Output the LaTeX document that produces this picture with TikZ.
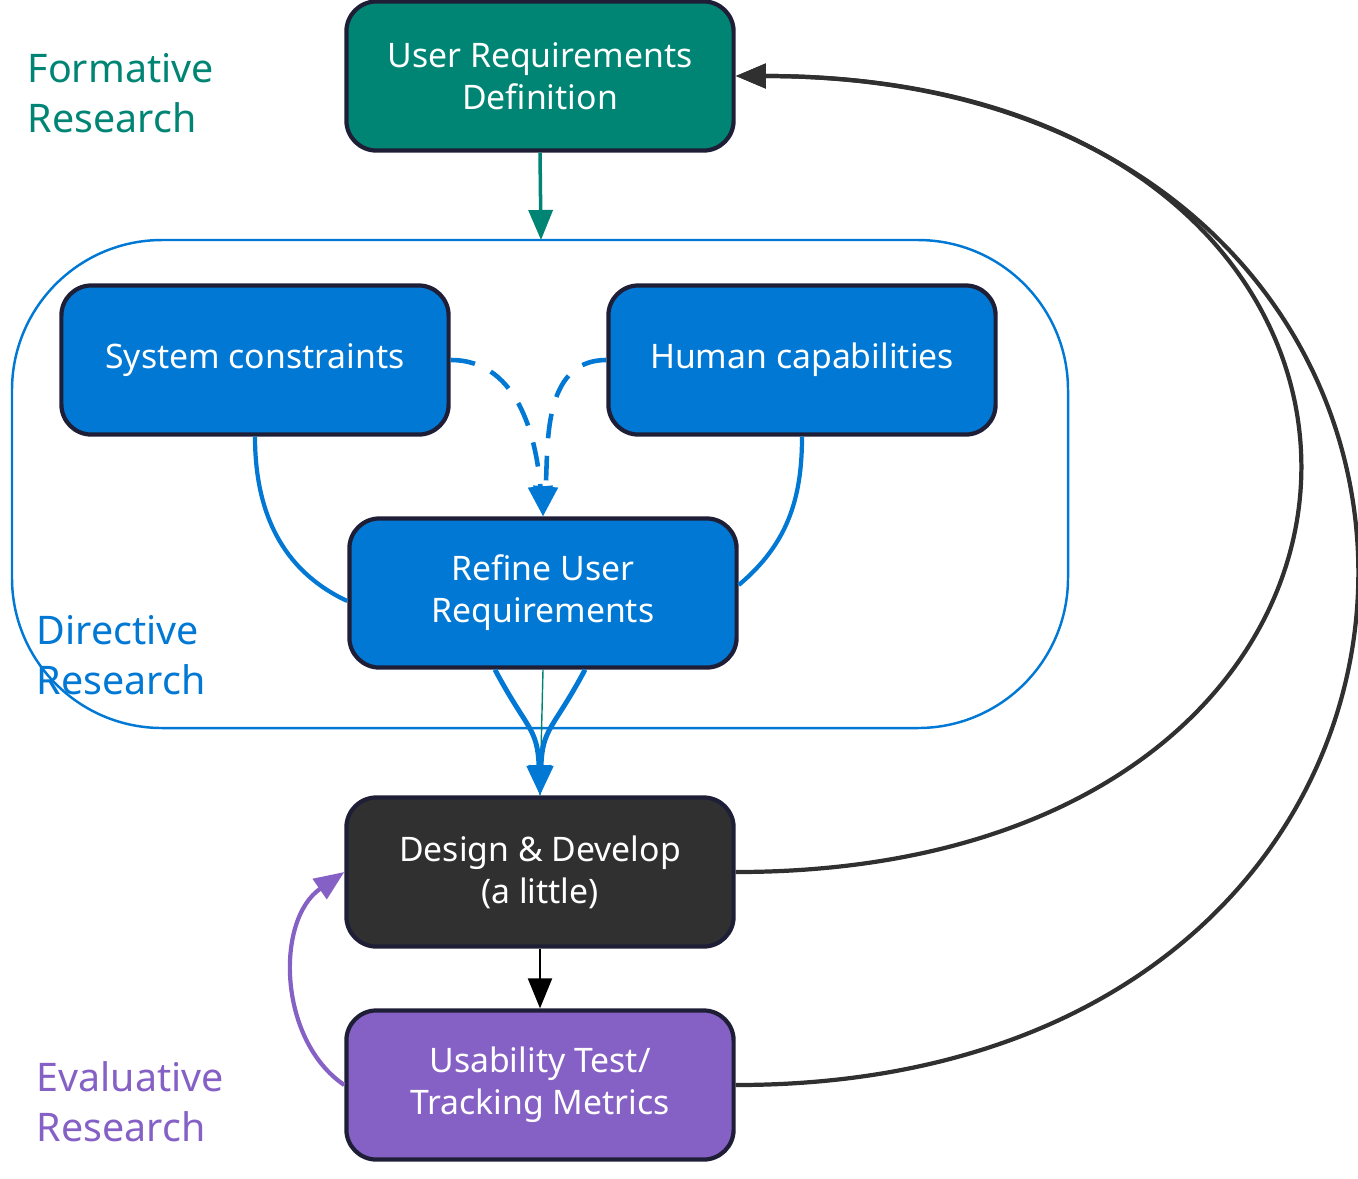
\documentclass[tikz,border=0pt]{standalone}
\usepackage{fontspec}
\setmainfont{Noto Sans}
\usepackage{tikz}
\definecolor{teal}{RGB}{0,133,117}
\definecolor{msblue}{RGB}{0,120,212}
\definecolor{dark}{RGB}{48,48,48}
\definecolor{violet}{RGB}{134,97,197}
\definecolor{edge}{RGB}{30,30,55}
\usetikzlibrary{arrows.meta}

\tikzset{
    phasebox/.style={draw=edge, line width=1.2pt, rounded corners=0.3cm, minimum width=3.87cm, minimum height=1.49cm, align=center, text=white, font=\fontsize{9.6}{11.95}\selectfont},
    phaselabel/.style={anchor=north west, inner sep=0pt, align=left, font=\fontsize{11.2}{14.2}\selectfont},
    tip/.style={-{Triangle[length=0.3cm, width=0.24cm]}}
}

\begin{document}
\begin{tikzpicture}[x=0.01cm, y=-0.01cm]
    \useasboundingbox (0,0) rectangle (1358,1178);

    % Research phases
    \node[phaselabel, text=teal] (formative) at (27,53) {Formative\\Research};
    \draw[msblue, line width=0.7pt, rounded corners=1.5cm] (12,240) rectangle (1068,728);
    \node[phaselabel, text=msblue] (directive) at (36,615) {Directive\\Research};
    \node[phaselabel, text=violet] (evaluative) at (36,1061) {Evaluative\\Research};

    % Boxes
    \node[phasebox, fill=teal] (userreq) at (540,76) {User Requirements\\Definition};
    \node[phasebox, fill=msblue] (system) at (255,360) {System constraints};
    \node[phasebox, fill=msblue] (human) at (802,360) {Human capabilities};
    \node[phasebox, fill=msblue] (refine) at (543,593) {Refine User\\Requirements};
    \node[phasebox, fill=dark] (design) at (540,872) {Design \& Develop\\(a little)};
    \node[phasebox, fill=violet] (usability) at (540,1085) {Usability Test/\\Tracking Metrics};

    \coordinate (boxtop) at (541,240);

    % Arrows
    \draw[teal, line width=1pt, tip] (userreq.south) -- (boxtop);
    \draw[teal, line width=0.4pt] (refine.south) -- (design.north);
    \draw[msblue, line width=1.3pt, dashed, dash pattern=on 7pt off 5pt, tip] (system.east) to[out=0, in=95] (refine.north);
    \draw[msblue, line width=1.3pt, dashed, dash pattern=on 7pt off 5pt, tip] (human.west) to[out=180, in=85] (refine.north);
    \draw[msblue, line width=1.2pt] (system.south) to[out=-90, in=155] ([yshift=-0.08cm]refine.west);
    \draw[msblue, line width=1.2pt] (human.south) to[out=-90, in=40] ([yshift=0.08cm]refine.east);
    \draw[msblue, line width=1.4pt, tip] ([xshift=-0.48cm]refine.south) to[out=-62, in=92, looseness=1.3] (design.north);
    \draw[msblue, line width=1.4pt, tip] ([xshift=0.42cm]refine.south) to[out=-118, in=88, looseness=1.3] (design.north);
    \draw[black, line width=0.6pt, tip] (design.south) -- (usability.south |- usability.north);
    \draw[violet, line width=1.2pt, tip] (usability.west) .. controls (278,1040) and (275,920) .. (design.west);
    \draw[dark, line width=1.2pt, tip] (design.east) .. controls (1482,872) and (1488,76) .. (userreq.east);
    \draw[dark, line width=1.2pt, tip] (usability.east) .. controls (1559,1085) and (1563,76) .. (userreq.east);
\end{tikzpicture}
\end{document}
